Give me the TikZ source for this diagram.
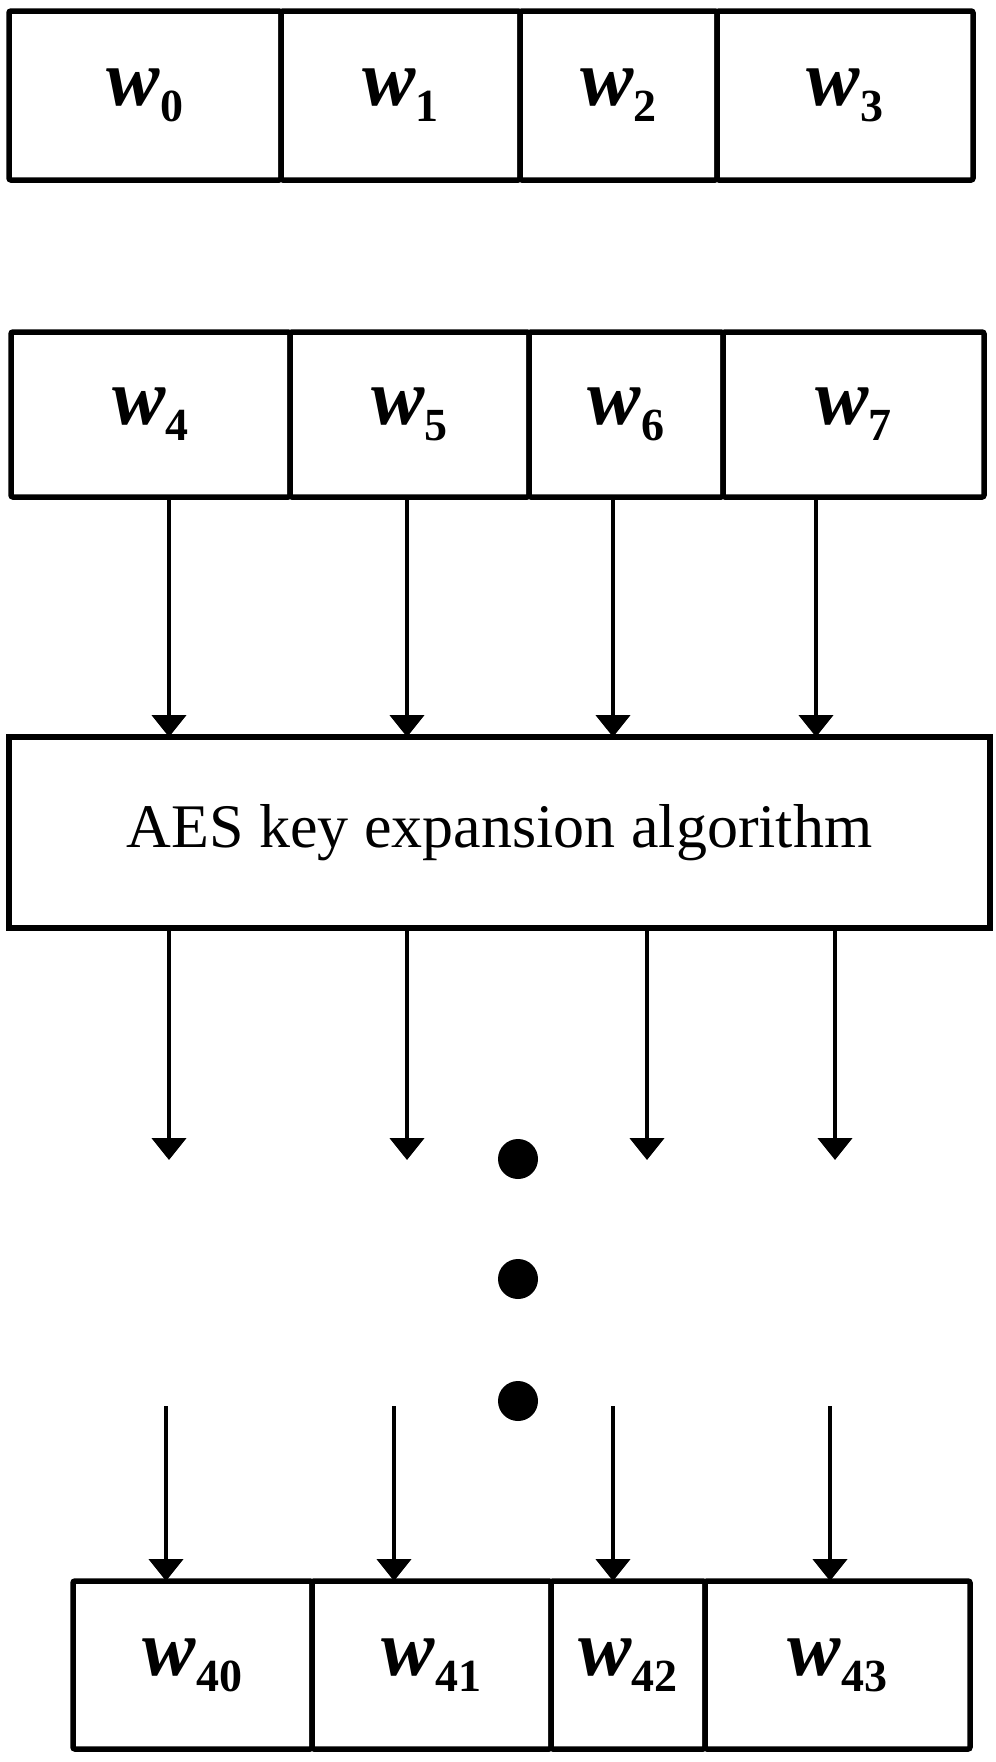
\documentclass[tikz,border=0pt]{standalone}
\usepackage{fontspec}
\setmainfont{Liberation Serif}
\usetikzlibrary{arrows.meta}
\newcommand{\wsub}[1]{{\fontsize{80}{80}\selectfont\bfseries\itshape w}\raisebox{-16pt}{\fontsize{46}{46}\selectfont\bfseries #1}}
\begin{document}
\begin{tikzpicture}[x=1pt,y=-1pt,line width=5.5pt,
  cell/.style={draw,rounded corners=2pt},
  arr/.style={-{Triangle[width=34pt,length=22pt]},line width=4.5pt}]
\useasboundingbox (0,0) rectangle (996,1762);
% row 1
\foreach \a/\b/\n/\s in {9/281/a0/0,281/520/a1/1,520/717/a2/2,717/973/a3/3}{
  \draw[cell] (\a,11) rectangle (\b,180);
  \node (\n) at ({(\a+\b)/2},95) {\wsub{\s}};
}
% row 2
\foreach \a/\b/\n/\s in {11/290/b0/4,290/529/b1/5,529/723/b2/6,723/984/b3/7}{
  \draw[cell] (\a,332) rectangle (\b,497);
  \node (\n) at ({(\a+\b)/2},414) {\wsub{\s}};
}
% AES box
\node[draw,minimum width=981pt,minimum height=191pt,inner sep=0pt,font=\fontsize{62}{62}\selectfont] (aes) at (499.5,832.5) {AES key expansion algorithm};
% arrows into aes
\foreach \x in {169,407,613,816}{
  \coordinate (s\x) at (\x,497); \coordinate (e\x) at (\x,737);
  \draw[arr] (s\x) -- (e\x);
}
% arrows out
\foreach \x in {169,407,647,835}{
  \coordinate (o\x) at (\x,928); \coordinate (p\x) at (\x,1160);
  \draw[arr] (o\x) -- (p\x);
}
% dots
\foreach \y/\n in {1159/d1,1279/d2,1401/d3}{
  \fill (518,\y) circle (20pt);
  \coordinate (\n) at (518,\y);
}
% bottom arrows
\foreach \x in {166,394,613,830}{
  \coordinate (q\x) at (\x,1406); \coordinate (r\x) at (\x,1581);
  \draw[arr] (q\x) -- (r\x);
}
% bottom row
\foreach \a/\b/\n/\s in {73/312/c0/40,312/551/c1/41,551/705/c2/42,705/970/c3/43}{
  \draw[cell] (\a,1581) rectangle (\b,1749);
  \node (\n) at ({(\a+\b)/2},1665) {\wsub{\s}};
}
\end{tikzpicture}
\end{document}
